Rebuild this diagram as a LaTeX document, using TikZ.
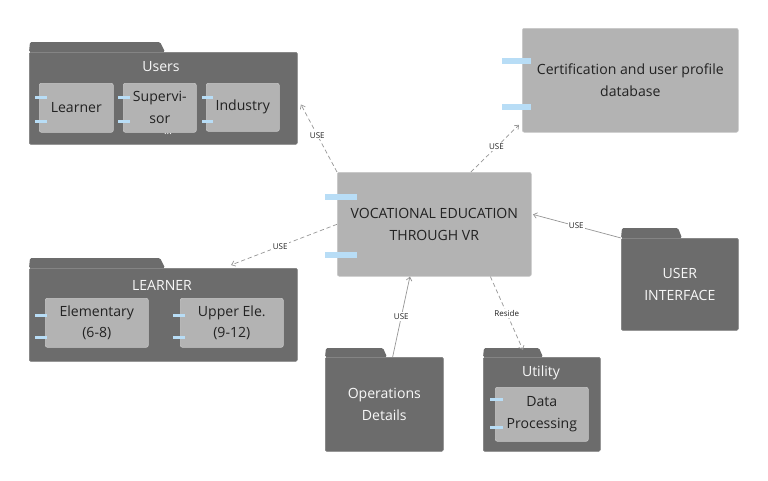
\documentclass[tikz,border=0pt]{standalone}
\usepackage{fontspec}
\setmainfont{Open Sans}
\usepackage{tikz}
\usetikzlibrary{arrows.meta,calc}
\definecolor{darkfold}{RGB}{108,108,108}
\definecolor{lightbox}{RGB}{179,179,179}
\definecolor{boxline}{RGB}{200,200,200}
\definecolor{portcol}{RGB}{184,221,246}
\definecolor{txtdark}{RGB}{34,34,34}
\definecolor{txtlight}{RGB}{248,248,248}
\definecolor{linecol}{RGB}{150,150,150}
\tikzstyle{folder}=[fill=darkfold, draw=darkfold!90!white, line width=0.4pt, rounded corners=1pt, inner sep=0pt, text=txtlight, align=center]
\tikzstyle{tab}=[fill=darkfold, rounded corners=1pt]
\tikzstyle{comp}=[fill=lightbox, draw=boxline, line width=0.4pt, rounded corners=1.5pt, inner sep=0pt, text=txtdark, align=center]
\tikzstyle{title}=[text=txtlight, inner sep=0pt]
\tikzstyle{port}=[fill=portcol]
\tikzstyle{use}=[draw=linecol, line width=0.5pt, dash pattern=on 3pt off 2pt]
\tikzstyle{solid use}=[draw=linecol, line width=0.5pt]
\tikzstyle{lbl}=[fill=white, inner sep=1pt, text=txtdark, font=\fontsize{5.7}{6}\selectfont]

\begin{document}
\begin{tikzpicture}[x=0.025cm,y=-0.025cm,>={Straight Barb[length=2.5pt,width=4pt]},font=\fontsize{10}{15.5}\selectfont]
    \useasboundingbox (0,0) rectangle (768,480);
    % folders
    \node [folder, anchor=north west, minimum width=6.7cm, minimum height=2.3cm] (users) at (29,52) {};
    \node [folder, anchor=north west, minimum width=6.7cm, minimum height=2.325cm] (learner) at (29,268) {};
    \node [folder, anchor=north west, minimum width=2.925cm, minimum height=2.3cm] (ui) at (621,238) {USER\\INTERFACE};
    \node [folder, anchor=north west, minimum width=2.95cm, minimum height=2.35cm] (ops) at (325,357) {Operations\\Details};
    \node [folder, anchor=north west, minimum width=2.925cm, minimum height=2.35cm] (util) at (483,357) {};
    \fill[tab] (users.north west) -- ++(1,-10) -- ++(130,0) -- ++(5,10) -- cycle;
    \fill[tab] (learner.north west) -- ++(1,-10) -- ++(130,0) -- ++(5,10) -- cycle;
    \fill[tab] (ui.north west) -- ++(1,-10) -- ++(56,0) -- ++(4,10) -- cycle;
    \fill[tab] (ops.north west) -- ++(1,-9) -- ++(57,0) -- ++(4,9) -- cycle;
    \fill[tab] (util.north west) -- ++(1,-9) -- ++(55,0) -- ++(4,9) -- cycle;
    \node [title] (userst) at (161,67) {Users};
    \node [title] (learnert) at (162,285) {LEARNER};
    \node [title] (utilt) at (541,373) {Utility};

    % components
    \node [comp, anchor=north west, minimum width=1.85cm, minimum height=1.225cm] (lrn) at (39,83) {Learner};
    \node [comp, anchor=north west, minimum width=1.825cm, minimum height=1.225cm] (sup) at (123,83) {Supervi-\\sor};
    \node [comp, anchor=north west, minimum width=1.825cm, minimum height=1.2cm] (ind) at (206,83) {Industry};
    \node [text=txtlight, inner sep=0pt, font=\fontsize{7}{7}\selectfont] (more) at (168,134) {...};
    \node [comp, anchor=north west, minimum width=5.4cm, minimum height=2.6cm] (cert) at (522,28) {Certification and user profile\\database};
    \node [comp, anchor=north west, minimum width=4.85cm, minimum height=2.6cm] (voc) at (337,172) {VOCATIONAL EDUCATION\\THROUGH VR};
    \node [comp, anchor=north west, minimum width=2.575cm, minimum height=1.225cm] (elem) at (45,298) {Elementary\\(6-8)};
    \node [comp, anchor=north west, minimum width=2.575cm, minimum height=1.225cm] (upper) at (180,298) {Upper Ele.\\(9-12)};
    \node [comp, anchor=north west, minimum width=2.325cm, minimum height=1.35cm] (data) at (495,387) {Data\\Processing};

    % ports
    \fill[port] (35,96) rectangle (47,99);
    \fill[port] (35,120) rectangle (47,123);
    \fill[port] (118,96) rectangle (130,99);
    \fill[port] (118,120) rectangle (130,123);
    \fill[port] (202,96) rectangle (213,99);
    \fill[port] (202,120) rectangle (213,123);
    \fill[port] (502,58) rectangle (531,64);
    \fill[port] (502,104) rectangle (531,110);
    \fill[port] (325,194) rectangle (357,200);
    \fill[port] (325,252) rectangle (357,258);
    \fill[port] (35,314) rectangle (47,317);
    \fill[port] (35,336) rectangle (47,339);
    \fill[port] (173,314) rectangle (185,317);
    \fill[port] (173,336) rectangle (185,339);
    \fill[port] (490,398) rectangle (503,401);
    \fill[port] (490,426) rectangle (503,429);

    % connectors
    \path[->]
    (voc.north west) edge[use, shorten >=5pt] node[lbl] {USE} (users.east)
    (voc.55) edge[use, shorten >=3pt] node[lbl] {USE} (cert.201)
    (voc.west) edge[use, shorten >=6pt] node[lbl] {USE} (learner.38)
    (ui.north west) edge[solid use, shorten >=1pt] node[lbl] {USE} (voc.6)
    (ops.80) edge[solid use] node[lbl] {USE} (voc.-115)
    (voc.-43) edge[use] node[lbl] {Reside} ($(util.north west)+(40,-7)$);
\end{tikzpicture}
\end{document}
